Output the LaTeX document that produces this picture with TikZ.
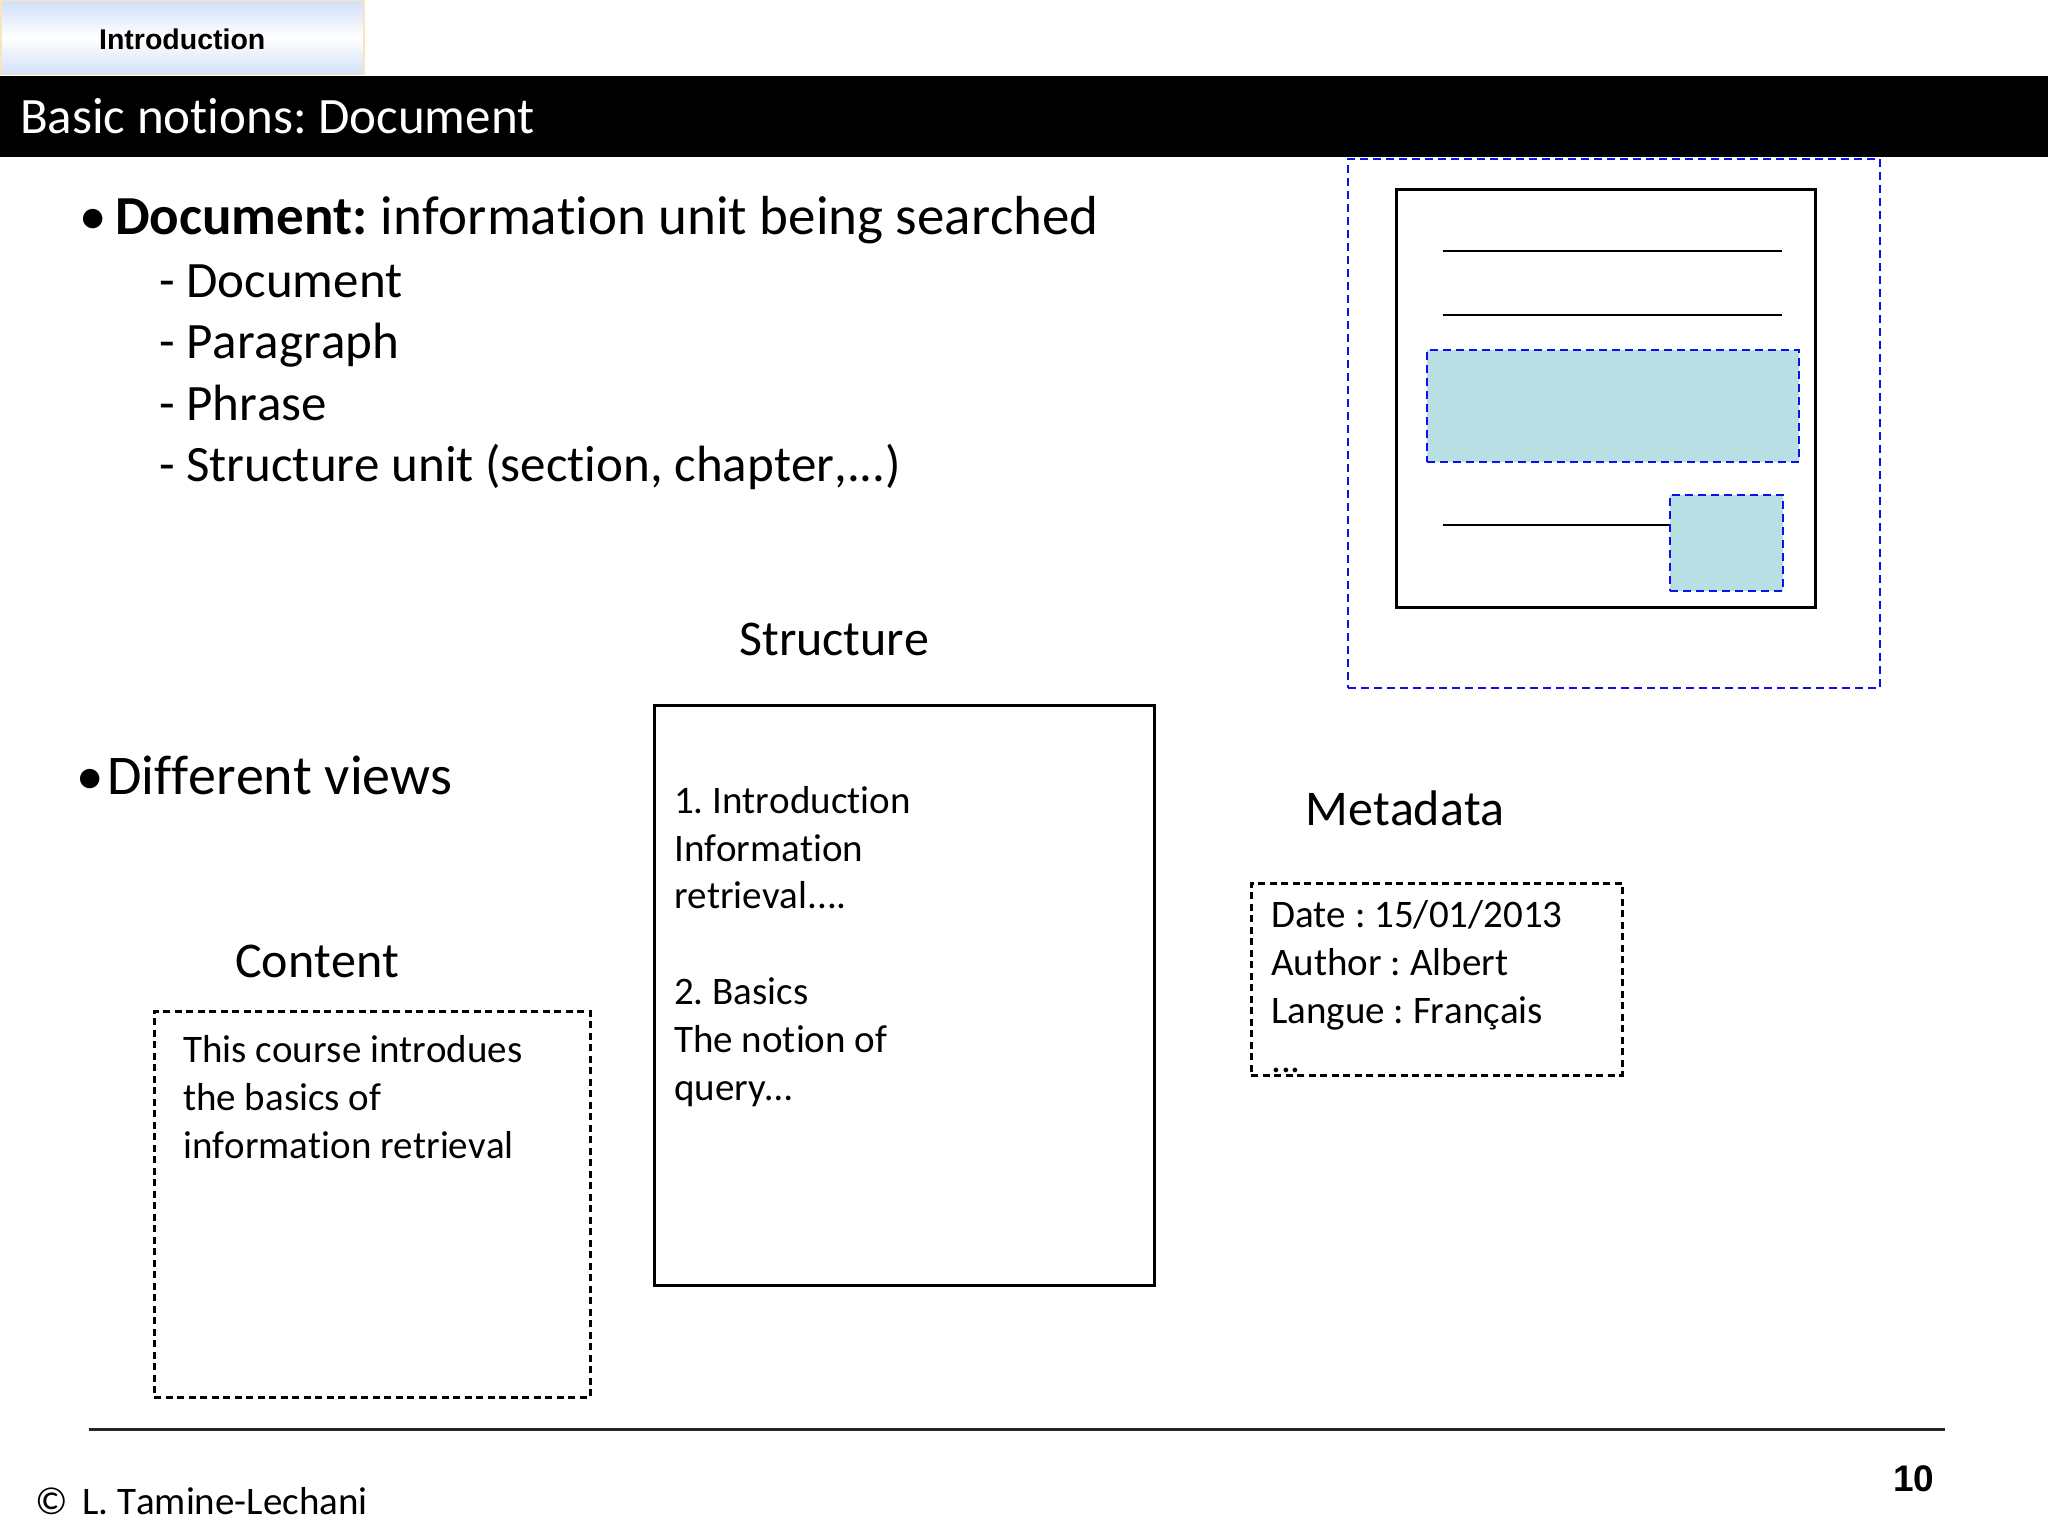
\documentclass[tikz,border=0pt]{standalone}
\usepackage{fontspec}
\setmainfont{Carlito}[Ligatures=NoCommon, Kerning=Off]
\newfontfamily\arialfont{Liberation Sans}
\usetikzlibrary{positioning}

\definecolor{boxcyan}{RGB}{184,223,227}
\definecolor{tabblue}{RGB}{210,224,248}
\definecolor{taborange}{RGB}{250,228,190}
\definecolor{dashblue}{RGB}{15,15,235}

\begin{document}
\frenchspacing
\begin{tikzpicture}[
  x=1pt, y=-1pt,
  txt/.style={inner sep=0pt, anchor=base west, align=left},
  bigtxt/.style={txt, font=\fontsize{55}{65}\selectfont},
  boxtxt/.style={txt, font=\fontsize{39}{47.8}\selectfont},
  viewlabel/.style={inner sep=0pt, font=\fontsize{50}{60}\selectfont},
  dashbox/.style={draw, dash pattern=on 7pt off 4.5pt, line width=2.5pt, inner sep=0pt, anchor=north west},
  bluebox/.style={draw=dashblue, dash pattern=on 8pt off 5pt, line width=2.3pt, inner sep=0pt, anchor=north west},
  plainbox/.style={draw, line width=2.5pt, inner sep=0pt, anchor=north west},
  docline/.style={line width=2.5pt}
]
  \useasboundingbox (0,0) rectangle (2048,1536);
  \fill[white] (0,0) rectangle (2048,1536);

  % header
  \node[draw=taborange, line width=1.5pt, top color=tabblue, bottom color=tabblue, middle color=white,
        minimum width=363pt, minimum height=74pt, inner sep=0pt, anchor=north west] (tab) at (0,0) {};
  \node[font=\arialfont\bfseries\fontsize{28.5}{34}\selectfont, inner sep=0pt] at ([yshift=-2pt]tab.center) {Introduction};
  \node[fill=black, minimum width=2048pt, minimum height=81pt, inner sep=0pt, anchor=north west] (bar) at (0,76) {};
  \node[txt, text=white, font=\fontsize{51}{60}\selectfont] (title) at (20,134) {Basic notions: Document};

  % definition (multi-line nodes sit on their last baseline)
  \node[bigtxt] (dot1) at (79,234) {•};
  \node[bigtxt] (def) at (115,234) {\textbf{Document:} information unit being searched};
  \node[txt, font=\fontsize{51}{61.5}\selectfont] (units) at (159,481.5)
    {- Document\\- Paragraph\\- Phrase\\- Structure unit (section, chapter,...)};

  % document sketch
  \node[bluebox, minimum width=532pt, minimum height=529pt] (docview) at (1347,158) {};
  \node[plainbox, minimum width=419pt, minimum height=418pt] (page) at (1395,188) {};
  \draw[docline] (1443,251) -- (1782,251);
  \draw[docline] (1443,315) -- (1782,315);
  \node[bluebox, fill=boxcyan, minimum width=372pt, minimum height=112pt] (parabox) at (1426,349) {};
  \draw[docline] (1443,525) -- (1669,525);
  \node[bluebox, fill=boxcyan, minimum width=113pt, minimum height=96pt] (cellbox) at (1669,494) {};

  % views
  \node[bigtxt] (dot2) at (76,794) {•};
  \node[bigtxt, font=\fontsize{56}{66}\selectfont] (views) at (107,794) {Different views};

  \node[plainbox, minimum width=500pt, minimum height=580pt] (structure) at (653,704) {};
  \node[viewlabel, above=48pt of structure.north, xshift=-70pt] (structlabel) {Structure};
  \node[boxtxt] (structtext) at (674,1100)
    {1. Introduction\\Information\\retrieval....\\[47.8pt]2. Basics\\The notion of\\query…};

  \node[dashbox, minimum width=436pt, minimum height=386pt] (content) at (153,1010) {};
  \node[viewlabel, above=32pt of content.north, xshift=-55pt] (contlabel) {Content};
  \node[boxtxt] (conttext) at (183,1158) {This course introdues\\the basics of\\information retrieval};

  \node[txt, font=\fontsize{39}{48.3}\selectfont] (metatext) at (1271,1072)
    {Date : 15/01/2013\\Author : Albert\\Langue : Français\\...};
  \node[dashbox, minimum width=371pt, minimum height=192pt] (metadata) at (1250,882) {};
  \node[viewlabel, above=56pt of metadata.north, xshift=-31.5pt] (metalabel) {Metadata};

  % footer
  \draw[line width=3pt, black!85] (89,1429) -- (1945,1429);
  \node[txt, font=\fontsize{39}{46}\selectfont] (copysign) at (35,1514) {©};
  \node[txt, font=\fontsize{39}{46}\selectfont] (author) at (82,1514) {L. Tamine-Lechani};
  \node[txt, font=\arialfont\bfseries\fontsize{37}{44}\selectfont] (pagenum) at (1893,1491) {10};
\end{tikzpicture}
\end{document}
